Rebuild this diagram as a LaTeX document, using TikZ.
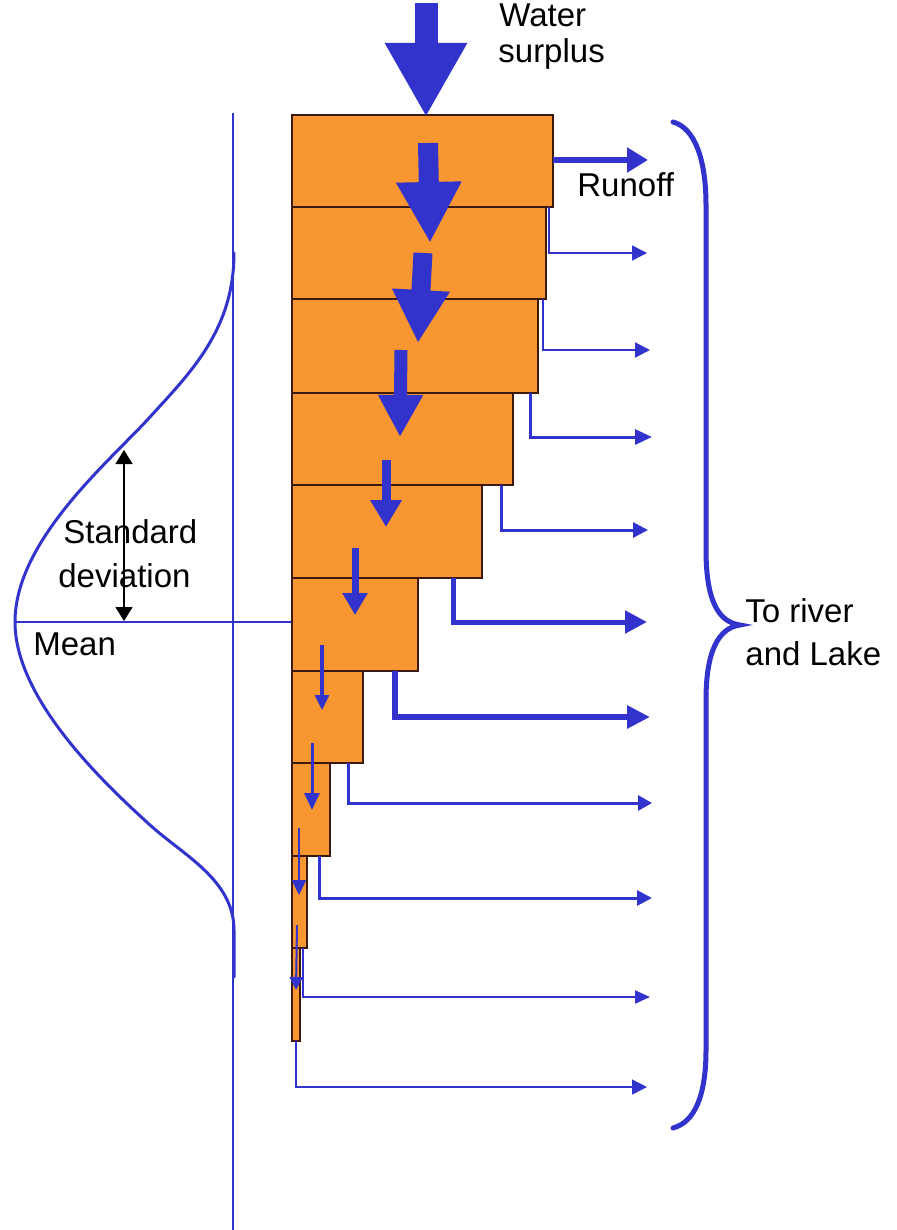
\documentclass[tikz,border=0pt]{standalone}
\usepackage{fontspec}
\setmainfont{Liberation Sans}
\usetikzlibrary{arrows.meta}
\definecolor{bl}{RGB}{50,50,205}
\definecolor{org}{RGB}{248,150,50}
\definecolor{edgec}{RGB}{60,25,10}
\begin{document}
\begin{tikzpicture}[x=0.5pt,y=-0.5pt,
  box/.style={fill=org,draw=edgec,line width=0.9pt},
  lbl/.style={font=\fontsize{16.5}{19}\selectfont,inner sep=0pt,anchor=base west,text=black},
  fat/.style n args={3}{draw=bl,line width=#1,-{Triangle[length=#3,width=#2]}},
  ro/.style n args={3}{draw=bl,line width=#1,-{Triangle[length=#3,width=#2]}}]
\useasboundingbox (0,0) rectangle (896,1230);
\fill[white] (0,0) rectangle (896,1230);

% axis, mean line, distribution curve
\draw[bl,line width=0.75pt] (233,113) -- (233,1230);
\draw[bl,line width=0.6pt] (15,622) -- (292,622);
\draw[bl,line width=1.5pt,line cap=round]
 (234,253) .. controls (234,330) and (190,373) .. (150,417)
 .. controls (110,461) and (15,540) .. (15,622)
 .. controls (15,700) and (106,785) .. (150,825)
 .. controls (183,855) and (234,880) .. (234,930) -- (234,977);

% standard deviation arrow
\draw[black,line width=0.75pt,{Triangle[length=7pt,width=8.5pt]}-{Triangle[length=7pt,width=8.5pt]}] (124,450) -- (124,621);

% boxes (lower first)
\filldraw[box] (292,948) rectangle (300,1041);
\filldraw[box] (292,856) rectangle (307,948);
\filldraw[box] (292,763) rectangle (330,856);
\filldraw[box] (292,671) rectangle (363,763);
\filldraw[box] (292,578) rectangle (418,671);
\filldraw[box] (292,485) rectangle (482,578);
\filldraw[box] (292,393) rectangle (513,485);
\filldraw[box] (292,299) rectangle (538,393);
\filldraw[box] (292,207) rectangle (546,299);
\filldraw[box] (292,115) rectangle (553,207);

% downward infiltration arrows
\draw[fat={11.5pt}{38.5pt}{37pt}] (426,3) -- (426,117);
\draw[fat={10pt}{30.5pt}{30.5pt}] (428,143) -- (430,243);
\draw[fat={9.5pt}{27pt}{26.5pt}] (423,253) -- (418,343);
\draw[fat={6.5pt}{21pt}{21pt}] (401,350) -- (400,437);
\draw[fat={4.5pt}{15pt}{13.5pt}] (386,460) -- (386,527);
\draw[fat={3.5pt}{12pt}{11pt}] (355,548) -- (355,615);
\draw[fat={1.6pt}{7pt}{7.5pt}] (322,645) -- (322,710);
\draw[fat={1.5pt}{7.5pt}{8.5pt}] (312,743) -- (312,810);
\draw[fat={1.2pt}{7pt}{7.5pt}] (299,828) -- (299,895);
\draw[fat={1pt}{6.5pt}{6.5pt}] (297,925) -- (296,990);

% runoff arrows
\draw[ro={3pt}{12pt}{10.5pt}] (553,160) -- (648,160);
\draw[ro={0.7pt}{7.5pt}{7.5pt}] (549,207) |- (647,253);
\draw[ro={1pt}{7.5pt}{7.5pt}] (543,299) |- (650,350);
\draw[ro={1.5pt}{7.5pt}{8.5pt}] (530,393) |- (652,437);
\draw[ro={1.5pt}{7.5pt}{7.5pt}] (501,485) |- (648,530);
\draw[ro={2.5pt}{11pt}{11pt}] (453,578) |- (647,622);
\draw[ro={3pt}{11pt}{11.5pt}] (395,671) |- (650,717);
\draw[ro={1.5pt}{7.5pt}{7pt}] (348,763) |- (652,803);
\draw[ro={1.5pt}{7.5pt}{7.5pt}] (319,856) |- (652,898);
\draw[ro={1pt}{6.5pt}{7.5pt}] (303,948) |- (650,997);
\draw[ro={0.7pt}{7.5pt}{7.5pt}] (296,1041) |- (647,1087);

% brace
\draw[bl,line width=2.5pt,line cap=round]
 (673,122) .. controls (695,128) and (706,160) .. (706,205) -- (706,550)
 .. controls (706,600) and (718,622) .. (740,625)
 .. controls (718,628) and (706,652) .. (706,700) -- (706,1050)
 .. controls (706,1095) and (695,1122) .. (673,1128);

% labels
\node[lbl] (water) at (499,27) {Water};
\node[lbl] (surplus) at (498,63) {surplus};
\node[lbl] (runoff) at (577,197) {Runoff};
\node[lbl] (std1) at (63,543) {Standard};
\node[lbl] (std2) at (58,587) {deviation};
\node[lbl] (mean) at (33,655) {Mean};
\node[lbl] (river1) at (745,622) {To river};
\node[lbl] (river2) at (745,665) {and Lake};
\end{tikzpicture}
\end{document}
